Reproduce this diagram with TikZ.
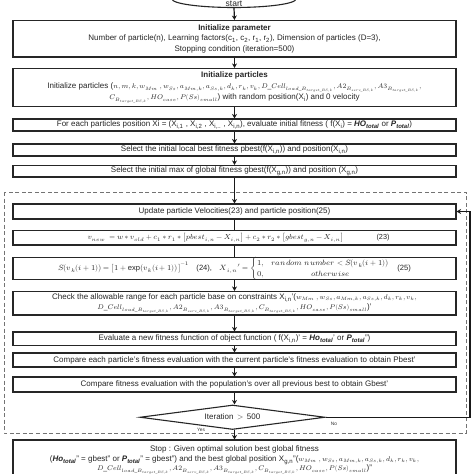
\documentclass[tikz,border=0pt]{standalone}
\usepackage{amsmath}
\usepackage{fontspec}
\usepackage{unicode-math}
\setmainfont{Liberation Sans}
\setmathfont{Latin Modern Math}
\usetikzlibrary{shapes.geometric,arrows.meta}
\newcommand{\bi}[1]{\textbf{\textit{#1}}}
\newcommand{\us}{\_}
\newcommand{\mth}[1]{{\fontsize{6.8}{8}\selectfont$#1$}}
\begin{document}
\begin{tikzpicture}[x=1pt,y=-1pt,
  box/.style={draw=black!85, line width=1.1pt, minimum width=443pt, inner sep=0pt,
    align=center, font=\fontsize{8}{10.8}\selectfont, text=black!85},
  arr/.style={line width=1.2pt, draw=black!90, -{Stealth[length=4.5pt,width=5pt]}},
  ln/.style={line width=1.2pt, draw=black!90},
  small/.style={font=\fontsize{4.8}{5}\selectfont, text=black!80, inner sep=0pt},
]
\clip (0,0) rectangle (474,474);
\fill[white] (0,0) rectangle (474,474);

% dashed loop region
\draw[black!55, line width=0.9pt, dash pattern=on 4pt off 2.5pt] (4,192) rectangle (466,433);

% start terminator
\node[ellipse, draw=black!85, line width=1.1pt, minimum width=124pt, minimum height=17pt, inner sep=0pt] (start) at (234,-1) {};
\node[font=\fontsize{8.5}{9}\selectfont, text=black!85, inner sep=0pt] (tstart) at (234,3.5) {start};

\node[box, minimum height=36.5pt] (b1) at (234.5,38.75) {\textbf{Initialize parameter}\\
Number of particle(n), Learning factors(c\textsubscript{1}, c\textsubscript{2}, r\textsubscript{1}, r\textsubscript{2}), Dimension of particles (D=3),\\
Stopping condition (iteration=500)};

\node[box, minimum height=38pt] (b2) at (234.5,87.5) {\textbf{Initialize particles}\\
Initialize particles (\mth{n, m, k, w_{Mm}\ , w_{Ss}, a_{Mm,k}, a_{Ss,k}, d_k, r_k, v_k, D\us Cell_{load\us B_{target\us BS,k}}, A2_{B_{serv\us BS,k}}, A3_{B_{target\us BS,k}},}\\
\mth{C_{B_{target\us BS,k}}, HO_{case}, P(Ss)_{small}}) with random position(X\textsubscript{i}) and 0 velocity};

\node[box, minimum height=12pt] (b3) at (234.5,125) {For each particles position Xi = (X\textsubscript{i,1} , X\textsubscript{i,2} , X\textsubscript{i,..} , X\textsubscript{i,n}), evaluate initial fitness ( f(X\textsubscript{i}) = \bi{HO\textsubscript{total}} or \bi{P\textsubscript{total}})};

\node[box, minimum height=12pt] (b4) at (234.5,150) {Select the initial local best fitness pbest(f(X\textsubscript{i,n})) and position(X\textsubscript{i,n})};

\node[box, minimum height=11.5pt] (b5) at (234.5,171.25) {Select the initial max of global fitness gbest(f(X\textsubscript{g,n})) and position (X\textsubscript{g,n})};

\node[box, minimum height=15pt] (b6) at (234.5,211.5) {Update particle Velocities(23) and particle position(25)};

\node[box, minimum height=14.5pt, font=\fontsize{7.3}{9}\selectfont] (b7) at (234.5,237.75) {\makebox[310pt][l]{\hspace{8pt}$v_{new}\ = w * v_{old} + c_1 * r_1 * \left[pbest_{i,n} - X_{i,n}\right] + c_2 * r_2 * \left[gbest_{g,n} - X_{i,n}\right]$\hfill(23)}};

\node[box, minimum height=21pt, font=\fontsize{7.6}{9}\selectfont] (b8) at (234.5,268.5) {$S\bigl(v_k(i+1)\bigr) = \bigl[1+\exp\bigl(v_k(i+1)\bigr)\bigr]^{-1}$\quad(24),\quad $X_{i,n}{}' = \begin{cases}1, & random\ number < S\bigl(v_k(i+1)\bigr)\\ 0, & \hfill otherwise\hfill\end{cases}$\quad(25)};

\node[box, minimum height=23.5pt, font=\fontsize{8}{10.5}\selectfont] (b9) at (234.5,303.25) {Check the allowable range for each particle base on constraints X\textsubscript{i,n}'(\mth{w_{Mm}\ , w_{Ss}, a_{Mm,k}, a_{Ss,k}, d_k, r_k, v_k,}\\
\mth{D\us Cell_{load\us B_{target\us BS,k}}, A2_{B_{serv\us BS,k}}, A3_{B_{target\us BS,k}}, C_{B_{target\us BS,k}}, HO_{case}, P(Ss)_{small}})'};

\node[box, minimum height=13.5pt] (b10) at (234.5,338.75) {Evaluate a new fitness function of object function ( f(X\textsubscript{i,n})' = \bi{Ho\textsubscript{total}}' or \bi{P\textsubscript{total}}'')};

\node[box, minimum height=14pt] (b11) at (234.5,360) {Compare each particle's fitness evaluation with the current particle's fitness evaluation to obtain Pbest'};

\node[box, minimum height=15pt] (b12) at (234.5,384.5) {Compare fitness evaluation with the population's over all previous best to obtain Gbest'};

\node[diamond, draw=black!85, line width=1.1pt, minimum width=185pt, minimum height=24.5pt, aspect=7.5, inner sep=0pt,
  font=\fontsize{8}{9}\selectfont, text=black!85] (dia) at (232.5,417.25) {Iteration \,$>$\, 500};

\node[box, minimum height=40pt, font=\fontsize{8}{9.8}\selectfont] (stop) at (234.5,460) {Stop : Given optimal solution best global fitness\\
(\bi{Ho\textsubscript{total}}'' = gbest'' or \bi{P\textsubscript{total}}'' = gbest'') and the best global position X\textsubscript{g,n}''(\mth{w_{Mm}\ , w_{Ss}, a_{Mm,k}, a_{Ss,k}, d_k, r_k, v_k,}\\
\mth{D\us Cell_{load\us B_{target\us BS,k}}, A2_{B_{serv\us BS,k}}, A3_{B_{target\us BS,k}}, C_{B_{target\us BS,k}}, HO_{case}, P(Ss)_{small}})''};

\node[small] (no) at (334,423.5) {No};
\node[small] (yes) at (201,430) {Yes};

\coordinate (loopx) at (470,0);

% connectors
\draw[arr] (start.south) -- (b1.north);
\draw[arr] (b1) -- (b2);
\draw[arr] (b2) -- (b3);
\draw[arr] (b3) -- (b4);
\draw[arr] (b4) -- (b5);
\draw[arr] (b5) -- (b6);
\draw[ln] (b6) -- (b7);
\draw[ln] (b7) -- (b8);
\draw[arr] (b8) -- (b9);
\draw[arr] (b9) -- (b10);
\draw[arr] (b10) -- (b11);
\draw[arr] (b11) -- (b12);
\draw[arr] (b12.south) -- (b12.south |- dia.north);
\draw[arr] (dia.south -| b12.south) -- (stop.north);
\draw[arr] (dia.east) -- (dia.east -| loopx) |- (b6.east);
\end{tikzpicture}
\end{document}
